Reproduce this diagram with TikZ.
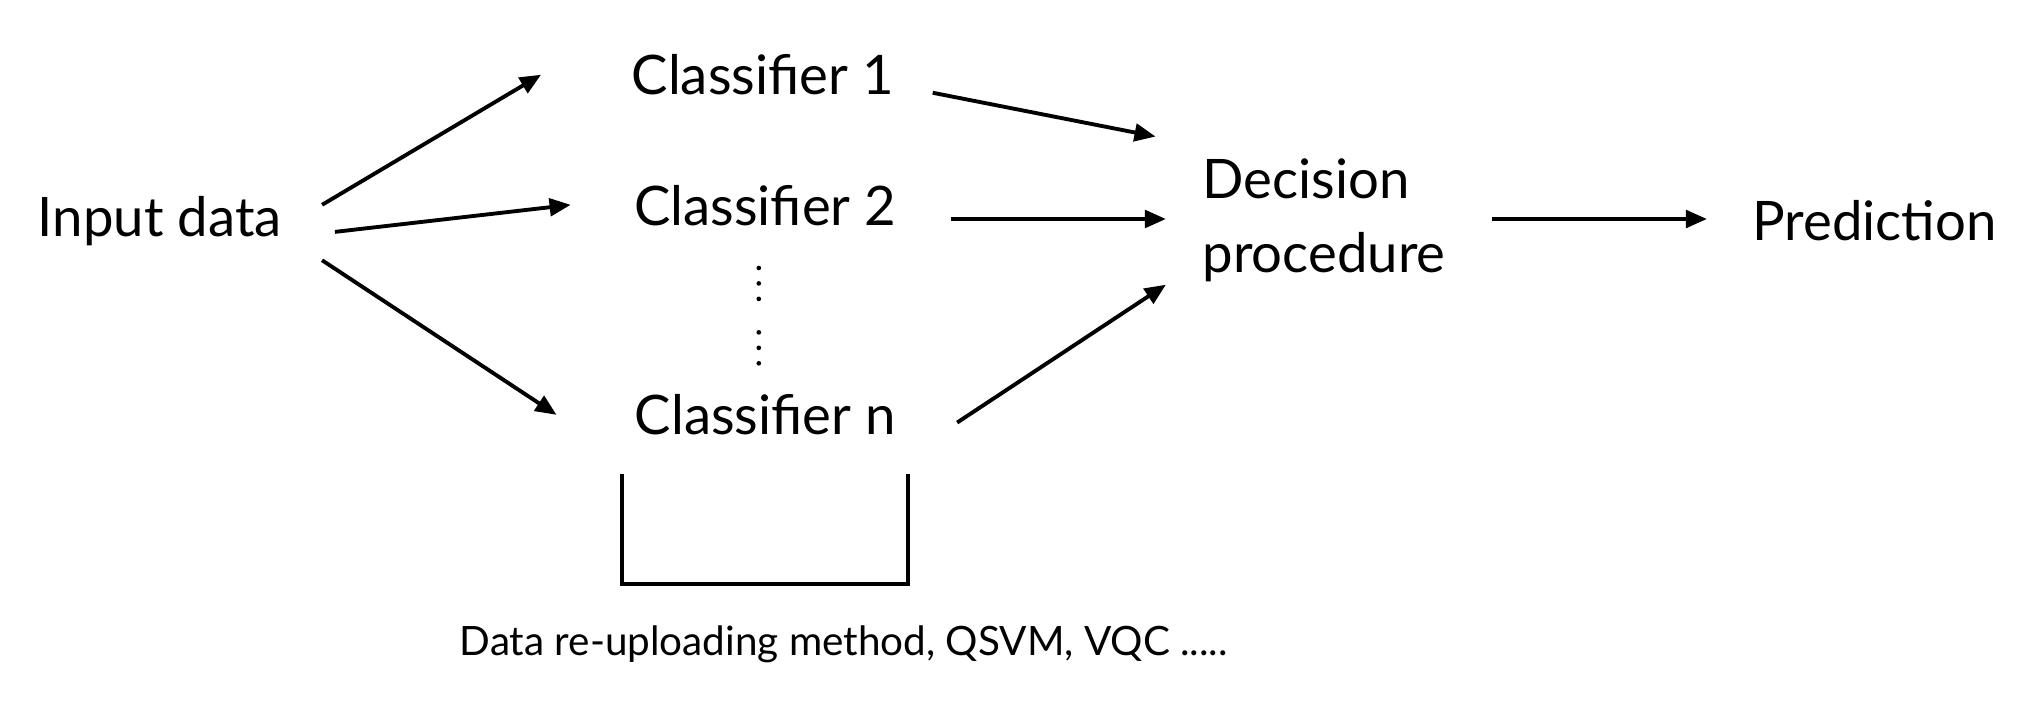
\documentclass[tikz,border=0pt]{standalone}
\usepackage{fontspec}
\setmainfont{Lato}
\usetikzlibrary{arrows.meta}
\begin{document}
\begin{tikzpicture}[x=0.01288cm,y=-0.01288cm,
  lbl/.style={font=\fontsize{15.5pt}{19pt}\selectfont,inner sep=0pt},
  arr/.style={line width=1.1pt,-{Triangle[length=6pt,width=5pt]}}]
\useasboundingbox (0,0) rectangle (1568,548);
\node[lbl] (in) at (124,172) {Input data};
\node[lbl] (c1) at (592,58) {Classifier 1};
\node[lbl] (c2) at (594,160) {Classifier 2};
\node[lbl] (cn) at (594,322) {Classifier n};
\node[lbl,align=left,anchor=west] (dp) at (933,171) {Decision\\[2pt]procedure};
\node[lbl] (pr) at (1455,171) {Prediction};
\node[font=\fontsize{11.5pt}{14pt}\selectfont] (tx) at (655,500) {Data re-uploading method, QSVM, VQC .....};
\foreach \y in {208,220,232,258,270,282} \fill (589,\y) circle (1.8);
\coordinate (a1) at (250,159); \coordinate (b1) at (420,58);
\coordinate (a2) at (260,180); \coordinate (b2) at (443,159);
\coordinate (a3) at (250,202); \coordinate (b3) at (432,322);
\coordinate (a4) at (724,72);  \coordinate (b4) at (897,106);
\coordinate (a5) at (738,170); \coordinate (b5) at (905,170);
\coordinate (a6) at (743,328); \coordinate (b6) at (905,221);
\coordinate (a7) at (1158,170);\coordinate (b7) at (1325,170);
\foreach \i in {1,...,7} \draw[arr] (a\i) -- (b\i);
\coordinate (k1) at (483,368); \coordinate (k2) at (705,368);
\draw[line width=1.1pt] (k1) -- (483,453) -- (705,453) -- (k2);
\end{tikzpicture}
\end{document}
